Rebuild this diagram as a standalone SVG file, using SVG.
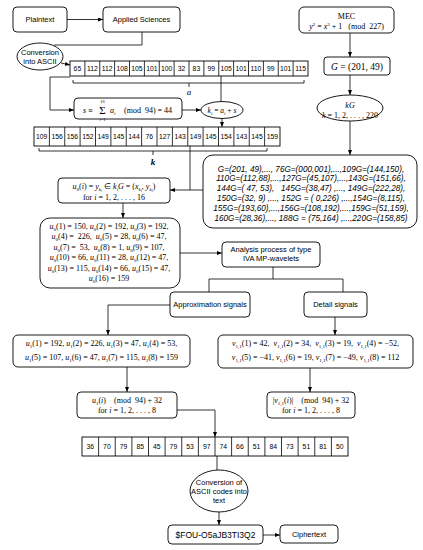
<svg xmlns="http://www.w3.org/2000/svg" width="423" height="550" viewBox="0 0 423 550">
<style>
.bx{fill:#fff;stroke:#000;stroke-width:0.9}
.ln{fill:none;stroke:#000;stroke-width:0.8}
.ar{marker-end:url(#ah)}
.t{font-family:"Liberation Sans",Arial,sans-serif;font-size:7.5px;text-anchor:middle;fill:#000}
.c{font-family:"Liberation Sans",Arial,sans-serif;font-size:6.8px;text-anchor:middle;fill:#000}
.g{font-family:"Liberation Sans",Arial,sans-serif;font-size:8.2px;font-style:italic;text-anchor:middle;fill:#000}
.m{font-family:"Liberation Serif","Times New Roman",serif;font-size:8px;text-anchor:middle;fill:#000}
.i{font-style:italic}
.sb{font-size:5px;baseline-shift:-1.6px}
.ss{font-size:3.8px;baseline-shift:-2.6px}
.sp{font-size:5px;baseline-shift:3px}
</style>
<defs>
<marker id="ah" viewBox="0 0 10 8" refX="10" refY="4" markerWidth="5" markerHeight="4" orient="auto" markerUnits="userSpaceOnUse"><path d="M0,0 L10,4 L0,8 z" fill="#000"/></marker>
</defs>

<g id="connectors">
<path class="ln ar" d="M67,19.5 H103"/>
<path class="ln" d="M142,32 V45 H54"/>
<path class="ln ar" d="M61,63 L70,65"/>
<path class="ln ar" d="M70,77 H50 V110 H74"/>
<path class="ln ar" d="M182,110 H201"/>
<path class="ln" d="M221,76 V102"/>
<path class="ln ar" d="M222,118 V127"/>
<path class="ln" d="M73,80 V83 H304 V80 M189,83 V87"/>
<path class="ln" d="M39,148 V151 H267 V148 M153,151 V155"/>
<path class="ln ar" d="M350,33 V57"/>
<path class="ln ar" d="M350,75 V95"/>
<path class="ln ar" d="M350,121 V155"/>
<path class="ln ar" d="M203,190 H170"/>
<path class="ln" d="M190,146 V190"/>
<path class="ln ar" d="M123,203 V218"/>
<path class="ln ar" d="M180,253 H222"/>
<path class="ln" d="M273,267 V279 M209,279 H343 M209,279 V292 M343,279 V292"/>
<path class="ln ar" d="M170,305 H108 V335"/>
<path class="ln ar" d="M335,317 V335"/>
<path class="ln ar" d="M127,367 V392"/>
<path class="ln ar" d="M310,368 V392"/>
<path class="ln ar" d="M177,410 H215 V437"/>
<path class="ln" d="M217,456 V470"/>
<path class="ln ar" d="M219,512 V525"/>
<path class="ln ar" d="M263,535 H280"/>
</g>

<g id="plaintext"><rect class="bx" x="13" y="7" width="54" height="25" rx="4"/><text class="t" x="40" y="22">Plaintext</text></g>
<g id="applied"><rect class="bx" x="103" y="7" width="77" height="25" rx="4"/><text class="t" x="141.5" y="22">Applied Sciences</text></g>
<g id="conv1"><ellipse class="bx" cx="40" cy="56.5" rx="23" ry="13.5"/><text class="t" x="40" y="54.5">Conversion</text><text class="t" x="40" y="63.5">into ASCII</text></g>

<g id="array-a">
<rect class="bx" x="70" y="61" width="238" height="15"/>
<path class="ln" d="M84.9,61 V76 M99.75,61 V76 M114.6,61 V76 M129.5,61 V76 M144.4,61 V76 M159.25,61 V76 M174.1,61 V76 M189,61 V76 M203.9,61 V76 M218.75,61 V76 M233.6,61 V76 M248.5,61 V76 M263.4,61 V76 M278.25,61 V76 M293.1,61 V76"/>
<text class="c" y="71"><tspan x="77.4">65</tspan><tspan x="92.3">112</tspan><tspan x="107.2">112</tspan><tspan x="122.1">108</tspan><tspan x="136.9">105</tspan><tspan x="151.8">101</tspan><tspan x="166.7">100</tspan><tspan x="181.6">32</tspan><tspan x="196.4">83</tspan><tspan x="211.3">99</tspan><tspan x="226.2">105</tspan><tspan x="241.1">101</tspan><tspan x="255.9">110</tspan><tspan x="270.8">99</tspan><tspan x="285.7">101</tspan><tspan x="300.6">115</tspan></text>
<text class="m i" x="189" y="95" style="font-size:9px">a</text>
</g>

<g id="sbox"><rect class="bx" x="74" y="98" width="108" height="21" rx="4"/>
<text class="m" x="83" y="112.5" style="text-anchor:start"><tspan class="i">s</tspan> ≡</text>
<text class="m" x="102.5" y="113.5" style="font-size:11px">Σ</text>
<text class="m" x="102.5" y="103" style="font-size:4.5px">16</text>
<text class="m i" x="102.5" y="121" style="font-size:4.5px">i<tspan style="font-style:normal">=1</tspan></text>
<text class="m" x="110" y="112.5" style="text-anchor:start"><tspan class="i">a</tspan><tspan class="sb i">i</tspan></text>
<text class="m" x="124" y="112.5" style="text-anchor:start">(mod&#160;&#160;94) = 44</text>
</g>

<g id="ki"><ellipse class="bx" cx="222" cy="110" rx="21" ry="8.5"/><text class="m i" x="222" y="112.5" style="font-size:7.5px">k<tspan class="sb">i</tspan> <tspan style="font-style:normal">=</tspan> a<tspan class="sb">i</tspan> <tspan style="font-style:normal">+</tspan> s</text></g>

<g id="array-k">
<rect class="bx" x="34" y="127" width="246" height="19"/>
<path class="ln" d="M49.4,127 V146 M64.75,127 V146 M80.1,127 V146 M95.5,127 V146 M110.9,127 V146 M126.25,127 V146 M141.6,127 V146 M157,127 V146 M172.4,127 V146 M187.75,127 V146 M203.1,127 V146 M218.5,127 V146 M233.9,127 V146 M249.25,127 V146 M264.6,127 V146"/>
<text class="c" y="139"><tspan x="41.7">109</tspan><tspan x="57.1">156</tspan><tspan x="72.4">156</tspan><tspan x="87.8">152</tspan><tspan x="103.2">149</tspan><tspan x="118.6">145</tspan><tspan x="134">144</tspan><tspan x="149.3">76</tspan><tspan x="164.7">127</tspan><tspan x="180.1">143</tspan><tspan x="195.5">149</tspan><tspan x="210.9">145</tspan><tspan x="226.2">154</tspan><tspan x="241.6">143</tspan><tspan x="257">145</tspan><tspan x="272.4">159</tspan></text>
<text class="m i" x="153" y="165" style="font-size:9px;font-weight:bold">k</text>
</g>

<g id="mec"><rect class="bx" x="299" y="7" width="95" height="26" rx="5"/>
<text class="m" x="346.5" y="19">MEC</text>
<text class="m" x="346.5" y="29"><tspan class="i">y</tspan><tspan class="sp">2</tspan> = <tspan class="i">x</tspan><tspan class="sp">3</tspan> + 1&#160;&#160;&#160;(mod&#160;&#160;227)</text></g>
<g id="gbox"><rect class="bx" x="324" y="57" width="66" height="18" rx="3"/><text class="m" x="357" y="69.5" style="font-size:9.5px"><tspan class="i">G</tspan> = (201, 49)</text></g>
<g id="kg"><ellipse class="bx" cx="350" cy="108" rx="33" ry="13"/><text class="m i" x="350" y="107.5">kG</text><text class="m" x="350" y="118"><tspan class="i">k</tspan> = 1, 2, . . . , 220</text></g>

<g id="multiples"><rect class="bx" x="203" y="155" width="214" height="73" rx="10"/>
<text class="g" x="311" y="171.5">G=(201, 49),..., 76G=(000,001),...,109G=(144,150),</text>
<text class="g" x="311" y="181.3">110G=(112,88),...,127G=(45,107),...,143G=(151,66),</text>
<text class="g" x="311" y="191.1">144G=( 47, 53),&#160;&#160;&#160;145G=(38,47) ,..., 149G=(222,28),</text>
<text class="g" x="311" y="200.9">150G=(32, 9) ,..., 152G = ( 0,226) ,...,154G=(8,115),</text>
<text class="g" x="311" y="210.7">155G=(193,60),...,156G=(108,192),...,159G=(51,159),</text>
<text class="g" x="311" y="220.5">160G=(28,36),..., 188G = (75,164) ,...,220G=(158,85)</text>
</g>

<g id="u0def"><rect class="bx" x="58" y="178" width="112" height="25" rx="4"/>
<text class="m" x="114" y="188.5"><tspan class="i">u</tspan><tspan class="sb">0</tspan>(<tspan class="i">i</tspan>) = <tspan class="i">y</tspan><tspan class="sb i">k</tspan><tspan class="ss i">i</tspan> ∈ <tspan class="i">k</tspan><tspan class="sb i">i</tspan><tspan class="i">G</tspan> = (<tspan class="i">x</tspan><tspan class="sb i">k</tspan><tspan class="ss i">i</tspan>, <tspan class="i">y</tspan><tspan class="sb i">k</tspan><tspan class="ss i">i</tspan>)</text>
<text class="m" x="114" y="200">for <tspan class="i">i</tspan> = 1, 2, . . . , 16</text></g>

<g id="u0vals"><rect class="bx" x="40" y="218" width="140" height="70" rx="10"/>
<text class="m" x="109" y="228.5"><tspan class="i">u</tspan><tspan class="sb">0</tspan>(1) = 150, <tspan class="i">u</tspan><tspan class="sb">0</tspan>(2) = 192, <tspan class="i">u</tspan><tspan class="sb">0</tspan>(3) = 192,</text>
<text class="m" x="109" y="239"><tspan class="i">u</tspan><tspan class="sb">0</tspan>(4) =&#160;&#160;226,&#160;&#160;<tspan class="i">u</tspan><tspan class="sb">0</tspan>(5) = 28, <tspan class="i">u</tspan><tspan class="sb">0</tspan>(6) = 47,</text>
<text class="m" x="109" y="249.5"><tspan class="i">u</tspan><tspan class="sb">0</tspan>(7) =&#160;&#160;53,&#160;&#160;<tspan class="i">u</tspan><tspan class="sb">0</tspan>(8) = 1, <tspan class="i">u</tspan><tspan class="sb">0</tspan>(9) = 107,</text>
<text class="m" x="109" y="260"><tspan class="i">u</tspan><tspan class="sb">0</tspan>(10) = 66, <tspan class="i">u</tspan><tspan class="sb">0</tspan>(11) = 28, <tspan class="i">u</tspan><tspan class="sb">0</tspan>(12) = 47,</text>
<text class="m" x="109" y="270.5"><tspan class="i">u</tspan><tspan class="sb">0</tspan>(13) = 115, <tspan class="i">u</tspan><tspan class="sb">0</tspan>(14) = 66, <tspan class="i">u</tspan><tspan class="sb">0</tspan>(15) = 47,</text>
<text class="m" x="109" y="281"><tspan class="i">u</tspan><tspan class="sb">0</tspan>(16) = 159</text></g>

<g id="analysis"><rect class="bx" x="222" y="242" width="98" height="25" rx="4"/><text class="t" x="271" y="252">Analysis process of type</text><text class="t" x="271" y="261">IVA MP-wavelets</text></g>
<g id="approx"><rect class="bx" x="170" y="292" width="80" height="25" rx="4"/><text class="t" x="210" y="307">Approximation signals</text></g>
<g id="detail"><rect class="bx" x="304" y="292" width="63" height="25" rx="4"/><text class="t" x="335.5" y="307">Detail signals</text></g>

<g id="u1vals"><rect class="bx" x="13" y="335" width="177" height="32" rx="5"/>
<text class="m" x="101.5" y="346"><tspan class="i">u</tspan><tspan class="sb">1</tspan>(1) = 192, <tspan class="i">u</tspan><tspan class="sb">1</tspan>(2) = 226, <tspan class="i">u</tspan><tspan class="sb">1</tspan>(3) = 47, <tspan class="i">u</tspan><tspan class="sb">1</tspan>(4) = 53,</text>
<text class="m" x="101.5" y="359.5"><tspan class="i">u</tspan><tspan class="sb">1</tspan>(5) = 107, <tspan class="i">u</tspan><tspan class="sb">1</tspan>(6) = 47, <tspan class="i">u</tspan><tspan class="sb">1</tspan>(7) = 115, <tspan class="i">u</tspan><tspan class="sb">1</tspan>(8) = 159</text></g>

<g id="v11vals"><rect class="bx" x="218" y="335" width="195" height="33" rx="5"/>
<text class="m" x="315.5" y="346"><tspan class="i">v</tspan><tspan class="sb">1,1</tspan>(1) = 42,&#160;&#160;<tspan class="i">v</tspan><tspan class="sb">1,1</tspan>(2) = 34,&#160;&#160;<tspan class="i">v</tspan><tspan class="sb">1,1</tspan>(3) = 19,&#160;&#160;<tspan class="i">v</tspan><tspan class="sb">1,1</tspan>(4) = −52,</text>
<text class="m" x="315.5" y="359.5"><tspan class="i">v</tspan><tspan class="sb">1,1</tspan>(5) = −41, <tspan class="i">v</tspan><tspan class="sb">1,1</tspan>(6) = 19, <tspan class="i">v</tspan><tspan class="sb">1,1</tspan>(7) = −49, <tspan class="i">v</tspan><tspan class="sb">1,1</tspan>(8) = 112</text></g>

<g id="u1mod"><rect class="bx" x="77" y="392" width="100" height="26" rx="4"/>
<text class="m" x="127" y="402.5"><tspan class="i">u</tspan><tspan class="sb">1</tspan>(<tspan class="i">i</tspan>)&#160;&#160;&#160;&#160;(mod&#160;&#160;94) + 32</text>
<text class="m" x="127" y="413">for <tspan class="i">i</tspan> = 1, 2, . . . , 8</text></g>
<g id="vmod"><rect class="bx" x="267" y="392" width="88" height="26" rx="4"/>
<text class="m" x="311" y="402.5">|<tspan class="i">v</tspan><tspan class="sb">1,1</tspan>(<tspan class="i">i</tspan>)|&#160;&#160;&#160;&#160;(mod&#160;&#160;94) + 32</text>
<text class="m" x="311" y="413">for <tspan class="i">i</tspan> = 1, 2, . . . , 8</text></g>

<g id="array-out">
<rect class="bx" x="82" y="437" width="266" height="19"/>
<path class="ln" d="M98.6,437 V456 M115.25,437 V456 M131.9,437 V456 M148.5,437 V456 M165.1,437 V456 M181.75,437 V456 M198.4,437 V456 M215,437 V456 M231.6,437 V456 M248.25,437 V456 M264.9,437 V456 M281.5,437 V456 M298.1,437 V456 M314.75,437 V456 M331.4,437 V456"/>
<text class="c" y="449"><tspan x="90.3">36</tspan><tspan x="106.9">70</tspan><tspan x="123.6">79</tspan><tspan x="140.2">85</tspan><tspan x="156.8">45</tspan><tspan x="173.4">79</tspan><tspan x="190.1">53</tspan><tspan x="206.7">97</tspan><tspan x="223.3">74</tspan><tspan x="239.9">66</tspan><tspan x="256.6">51</tspan><tspan x="273.2">84</tspan><tspan x="289.8">73</tspan><tspan x="306.4">51</tspan><tspan x="323.1">81</tspan><tspan x="339.7">50</tspan></text>
</g>

<g id="conv2"><ellipse class="bx" cx="219" cy="491" rx="29" ry="21"/><text class="t" x="219" y="484.5">Conversion of</text><text class="t" x="219" y="493.5">ASCII codes into</text><text class="t" x="219" y="502.5">text</text></g>
<g id="cipherstr"><rect class="bx" x="168" y="525" width="95" height="19" rx="4"/><text class="t" x="215.5" y="537.5" style="font-size:8.5px">$FOU-O5aJB3TI3Q2</text></g>
<g id="ciphertext"><rect class="bx" x="280" y="525" width="58" height="18" rx="4"/><text class="t" x="309" y="537">Ciphertext</text></g>
</svg>
